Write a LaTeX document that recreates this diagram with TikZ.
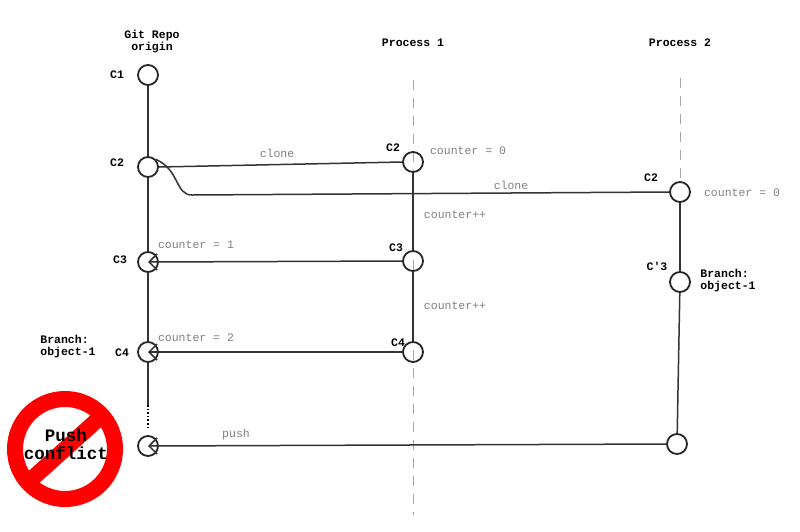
\documentclass[tikz,border=0pt]{standalone}
\usepackage{fontspec}
\setmonofont{Liberation Mono}
\usetikzlibrary{arrows.meta,calc}
\begin{document}
\begin{tikzpicture}[x=1pt,y=-1pt,
  commit/.style={circle,draw=black!85,line width=1.8pt,minimum size=20pt,inner sep=0pt},
  lbl/.style={font=\ttfamily\bfseries\fontsize{11.5}{12}\selectfont,align=left},
  glbl/.style={font=\ttfamily\fontsize{11.5}{12}\selectfont,text=black!50},
  ln/.style={line width=1.5pt,draw=black!80},
  arr/.style={ln,-{Straight Barb[length=8pt,width=16pt,line width=1.5pt]}},
  dsh/.style={draw=black!35,dashed,dash pattern=on 10pt off 8pt,line width=0.8pt}]
\useasboundingbox[fill=white] (0,0) rectangle (800,531);
% lifelines
\coordinate (d1t) at (413,80); \coordinate (d1b) at (413,515);
\coordinate (d2t) at (680,78); \coordinate (d2b) at (680,180);
\draw[dsh] (d1t) -- (d1b);
\draw[dsh] (d2t) -- (d2b);
% titles
\node[lbl,align=center] (t0) at (152,42) {Git Repo\\origin};
\node[lbl] (t1) at (413,43) {Process 1};
\node[lbl] (t2) at (680,43) {Process 2};
% origin commits
\node[commit] (o1) at (148,75) {};
\node[commit] (o2) at (148,167) {};
\node[commit] (o3) at (148,262) {};
\node[commit] (o4) at (148,352) {};
\node[commit] (o5) at (148,446) {};
% process 1
\node[commit] (a2) at (413,162) {};
\node[commit] (a3) at (413,261) {};
\node[commit] (a4) at (413,352) {};
% process 2
\node[commit] (b2) at (680,192) {};
\node[commit] (b3) at (680,282) {};
\node[commit] (b5) at (677,444) {};
% labels
\node[lbl] at (117,75) {C1};
\node[lbl] at (117,163) {C2};
\node[lbl] at (120,260) {C3};
\node[lbl] at (122,353) {C4};
\node[lbl] at (68,347) {Branch:\\object-1};
\node[lbl] at (393,148) {C2};
\node[lbl] at (396,248) {C3};
\node[lbl] at (398,343) {C4};
\node[lbl] at (651,178) {C2};
\node[lbl] at (657,266) {C'3};
\node[lbl] at (728,281) {Branch:\\object-1};
\node[glbl] at (468,151) {counter = 0};
\node[glbl] at (742,193) {counter = 0};
\node[glbl] at (455,215) {counter++};
\node[glbl] at (455,306) {counter++};
\node[glbl] at (196,245) {counter = 1};
\node[glbl] at (196,338) {counter = 2};
\node[glbl] at (277,153) {clone};
\node[glbl] at (511,185) {clone};
\node[glbl] at (236,435) {push};
% connectors
\draw[ln] (o1) -- (o2);
\draw[ln] (o2) -- (o3);
\draw[ln] (o3) -- (o4);
\coordinate (od) at (148,405);
\draw[ln] (o4) -- (od);
\draw[line width=1.6pt,dotted] (od) -- (148,430);
\draw[ln] (a2) -- (a3);
\draw[ln] (a3) -- (a4);
\draw[ln] (b2) -- (b3);
\draw[ln] (b3) -- (b5);
\draw[ln] (o2.east) -- (a2.west);
\draw[ln] (o2.north east) .. controls (180,170) and (175,195) .. (192,195) -- (b2.west);
\draw[arr] (a3.west) -- (o3.center);
\draw[arr] (a4.west) -- (o4.center);
\draw[arr] (b5.west) -- (o5.center);
% no sign
\coordinate (sc) at (65,449);
\draw[red,line width=16pt] (sc) circle (50);
\draw[red,line width=16pt] ($(sc)+(-42:50)$) -- ($(sc)+(138:50)$);
\node[font=\ttfamily\bfseries\fontsize{17.5}{18}\selectfont,align=center] (pc) at (66,444) {Push\\conflict};
\end{tikzpicture}
\end{document}
